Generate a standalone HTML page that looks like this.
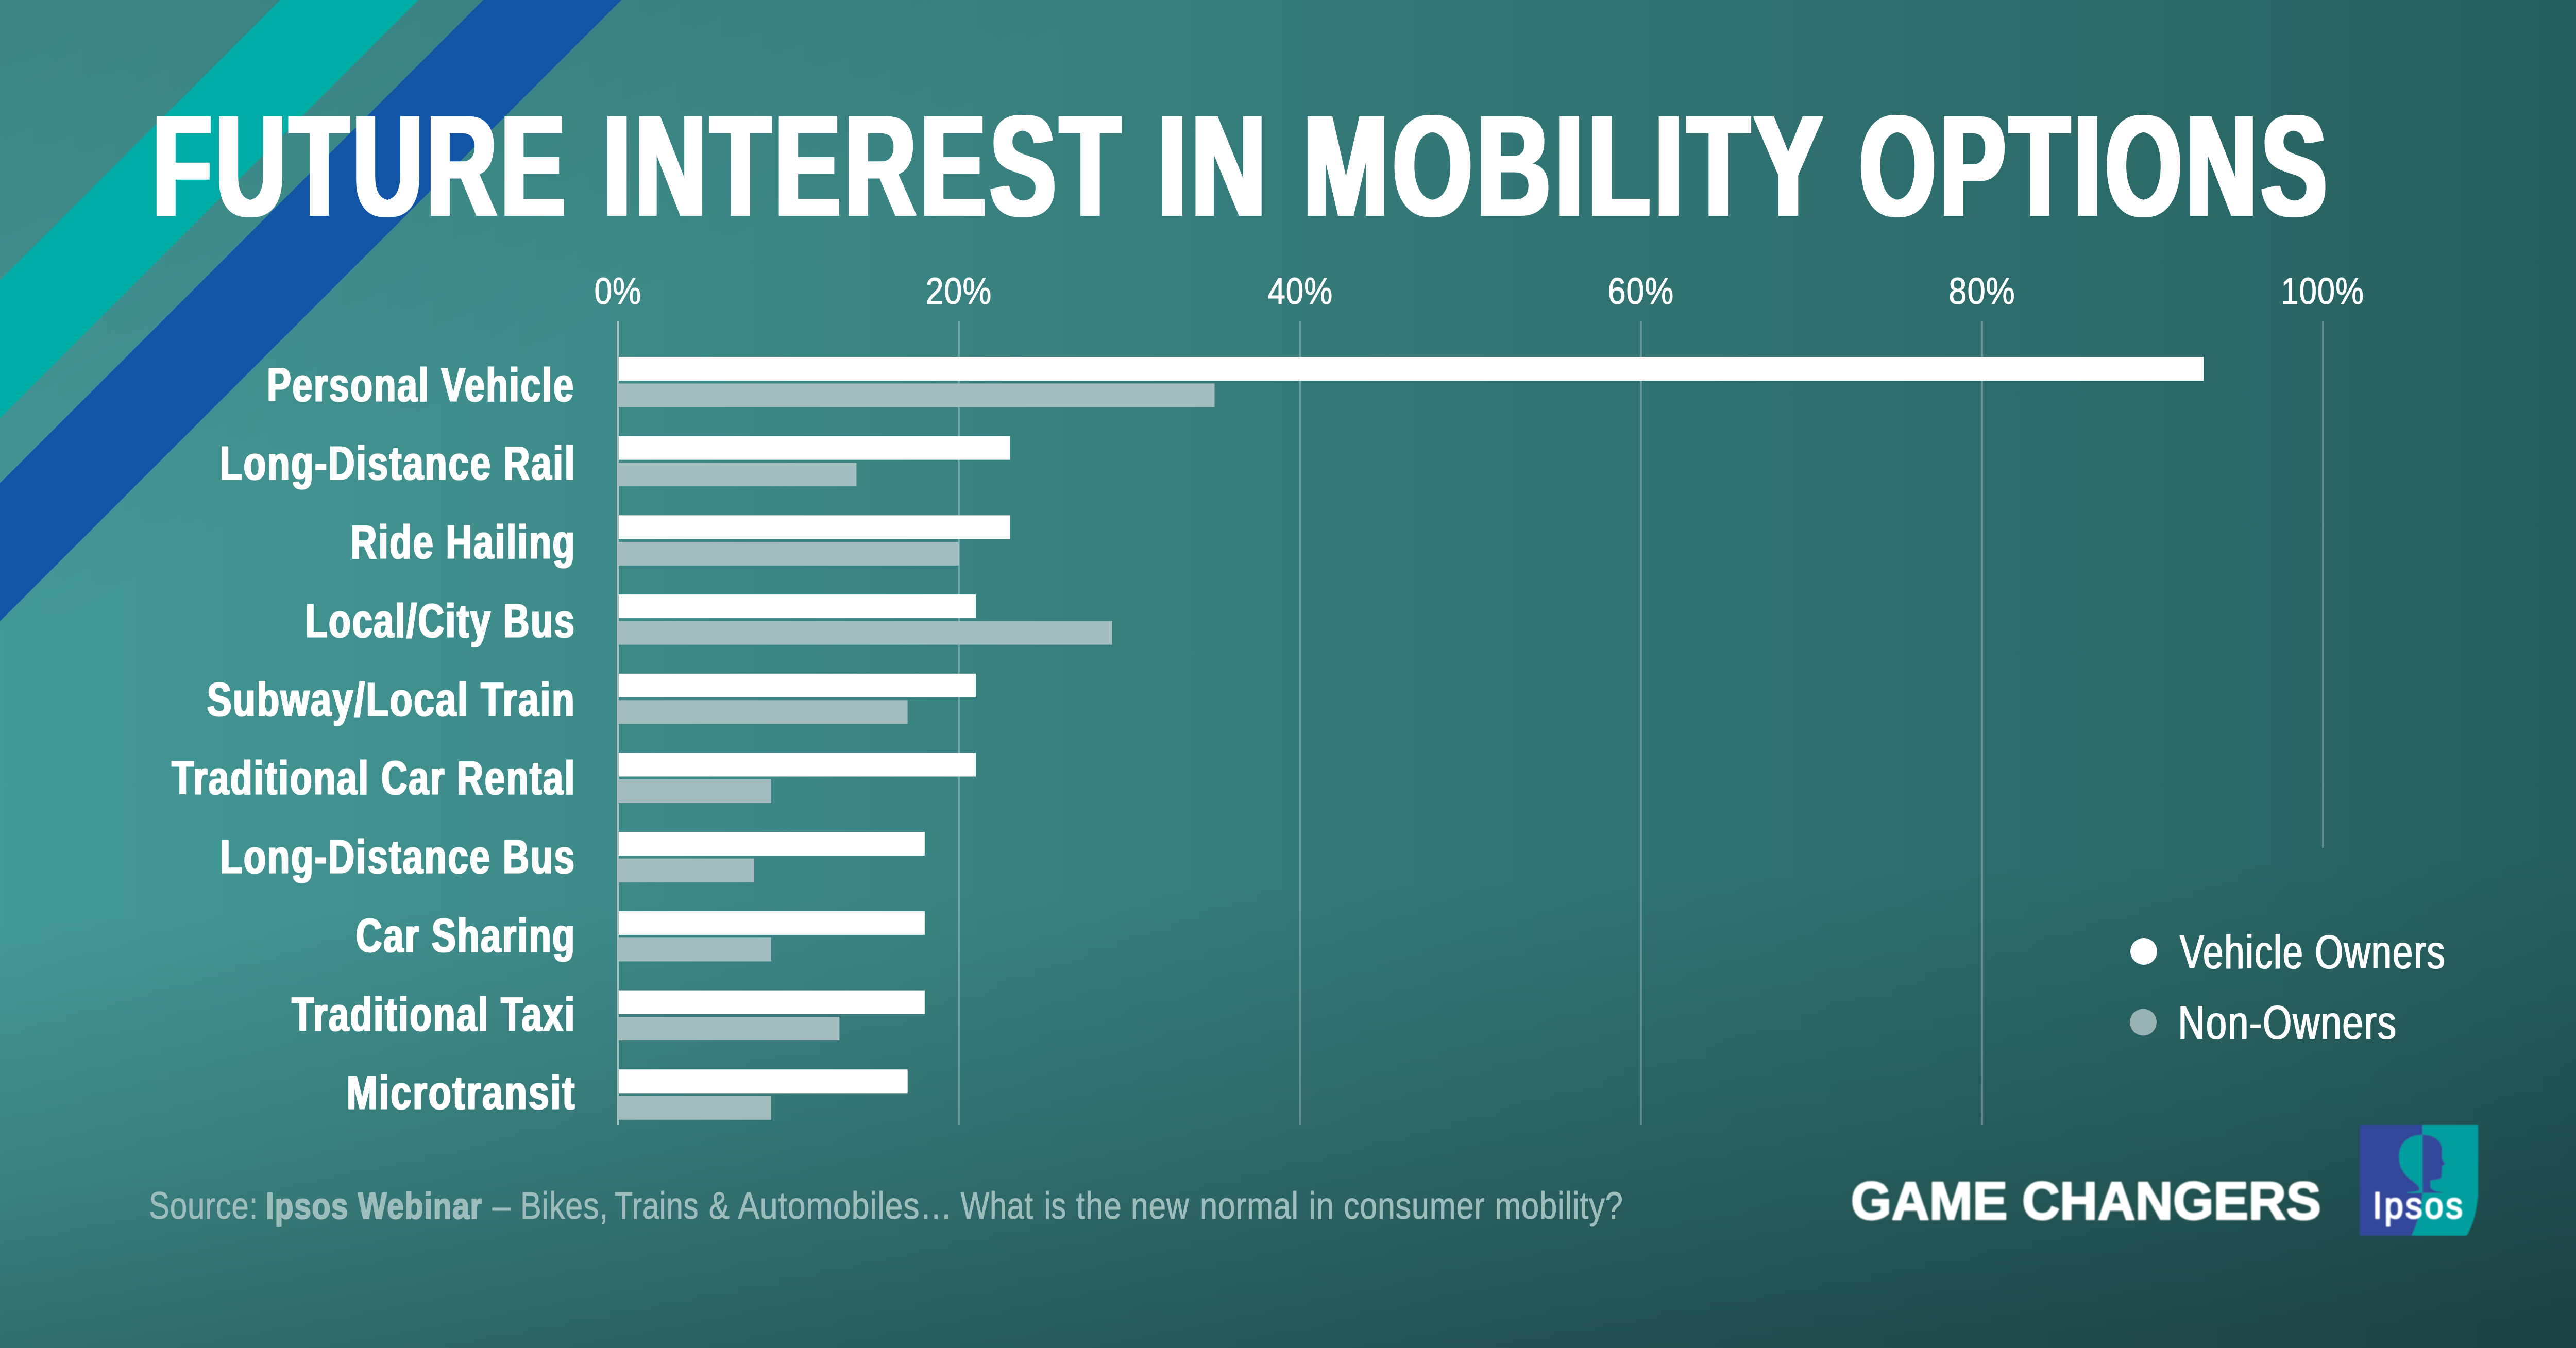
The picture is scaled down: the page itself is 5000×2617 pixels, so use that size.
<!DOCTYPE html>
<html lang="en">
<head>
<meta charset="utf-8">
<title>Future Interest in Mobility Options</title>
<style>
html,body{margin:0;padding:0;}
body{width:5000px;height:2617px;overflow:hidden;position:relative;
  font-family:"Liberation Sans",Arial,Helvetica,sans-serif;
  background:#367b7a;
}
svg{position:absolute;left:0;top:0;display:block;}
text{font-family:"Liberation Sans",Arial,Helvetica,sans-serif;white-space:pre;}
.axis{fill:#a5c0c0;}
.grid{fill:#fff;fill-opacity:.27;}
.b1{fill:#fff;}
.b2{fill:#a4bebf;}
.title{font-size:278px;font-weight:bold;fill:#fff;letter-spacing:12px;}
.tick{font-size:73px;font-weight:normal;fill:#fff;stroke:#fff;stroke-width:1.0px;stroke-linejoin:round;letter-spacing:1.0px;}
.cat{font-size:93px;font-weight:bold;fill:#fff;stroke:#fff;stroke-width:1.0px;stroke-linejoin:round;letter-spacing:3.5px;}
.legend{font-size:93px;font-weight:normal;fill:#fff;letter-spacing:2.5px;}
.src{font-size:74px;font-weight:normal;fill:#9dbdbc;stroke:#9dbdbc;stroke-width:1.0px;stroke-linejoin:round;letter-spacing:1.0px;}
.srcb{font-size:73px;font-weight:bold;fill:#9dbdbc;stroke:#9dbdbc;stroke-width:2.2px;stroke-linejoin:round;letter-spacing:1.5px;}
.gc{font-size:103px;font-weight:bold;fill:#fff;stroke:#fff;stroke-width:3.0px;stroke-linejoin:round;}
.logo{font-size:73px;font-weight:normal;fill:#fff;stroke:#fff;stroke-width:3.0px;stroke-linejoin:round;letter-spacing:5px;}
</style>
</head>
<body>
<svg width="5000" height="2617" viewBox="0 0 5000 2617" role="img" aria-label="Future interest in mobility options bar chart">
<defs>
<filter id="dil51" x="-2%" y="-15%" width="104%" height="130%"><feMorphology operator="dilate" radius="5 1"/></filter>
<filter id="soft" x="-3%" y="-30%" width="106%" height="160%"><feGaussianBlur stdDeviation="1.1"/></filter>
<filter id="dil10" x="-3%" y="-3%" width="106%" height="106%"><feMorphology operator="dilate" radius="1 0"/></filter>
<linearGradient id="bgBase" gradientUnits="userSpaceOnUse" x1="0" y1="0" x2="5000" y2="0">
<stop offset="0" stop-color="#449997"/><stop offset="0.57" stop-color="#337676"/><stop offset="0.86" stop-color="#2b6868"/><stop offset="1" stop-color="#265e5f"/>
</linearGradient>
<linearGradient id="bgTop" gradientUnits="userSpaceOnUse" x1="0" y1="0" x2="556" y2="984">
<stop offset="0" stop-color="#000" stop-opacity="0.13"/><stop offset="1" stop-color="#000" stop-opacity="0"/>
</linearGradient>
<linearGradient id="bgBot" gradientUnits="userSpaceOnUse" x1="0" y1="1780" x2="24" y2="2700">
<stop offset="0" stop-color="#000" stop-opacity="0"/><stop offset="0.141" stop-color="#000" stop-opacity="0.04"/>
<stop offset="0.522" stop-color="#000" stop-opacity="0.145"/><stop offset="0.859" stop-color="#000" stop-opacity="0.263"/>
<stop offset="1" stop-color="#000" stop-opacity="0.313"/>
</linearGradient>
</defs>
<rect width="5000" height="2617" fill="url(#bgBase)"/>
<rect width="5000" height="2617" fill="url(#bgTop)"/>
<rect width="5000" height="2617" fill="url(#bgBot)"/>
<!-- decorative stripes -->
<polygon points="544,0 812,0 0,812 0,544" fill="#00aca6"/>
<polygon points="938,0 1206,0 0,1206 0,938" fill="#1254a5"/>
<!-- Ipsos logo -->
<g id="logo" filter="url(#soft)">
<path d="M4580,2184 H4702 V2316 C4700,2350 4690,2380 4681,2399 H4580 Z" fill="#31479a"/>
<path d="M4702,2184 H4810 V2322 C4808,2350 4800,2378 4788,2399 H4681 C4690,2380 4700,2350 4702,2316 Z" fill="#009e9e"/>
<!-- head: left half teal (tree), right half blue (face) -->
<path d="M4702,2203 C4680,2203 4662,2214 4657,2236 C4654,2254 4660,2272 4672,2284 C4682,2293 4692,2298 4696,2306 C4698,2312 4692,2312 4672,2315 V2316 H4702 Z" fill="#009e9e"/>
<path d="M4702,2203 C4722,2203 4736,2212 4740,2228 L4740,2250 L4746,2260 L4740,2264 L4739,2285 C4736,2290 4726,2290 4717,2292 L4718,2306 C4722,2312 4730,2312 4740,2315 V2316 H4702 Z" fill="#31479a"/>
</g>
<rect class="axis" x="1197.0" y="624" width="4" height="1560"/>
<rect class="grid" x="1859.0" y="624" width="4" height="1560"/>
<rect class="grid" x="2521.0" y="624" width="4" height="1560"/>
<rect class="grid" x="3183.0" y="624" width="4" height="1560"/>
<rect class="grid" x="3845.0" y="624" width="4" height="1560"/>
<rect class="grid" x="4507.0" y="624" width="4" height="1022"/>
<rect class="b1" x="1201" y="693.0" width="3076.3" height="46"/>
<rect class="b2" x="1197" y="744.5" width="1160.5" height="46"/>
<rect class="b1" x="1201" y="846.7" width="759.3" height="46"/>
<rect class="b2" x="1197" y="898.2" width="465.4" height="46"/>
<rect class="b1" x="1201" y="1000.4" width="759.3" height="46"/>
<rect class="b2" x="1197" y="1051.9" width="664.0" height="46"/>
<rect class="b1" x="1201" y="1154.1" width="693.1" height="46"/>
<rect class="b2" x="1197" y="1205.6" width="961.9" height="46"/>
<rect class="b1" x="1201" y="1307.8" width="693.1" height="46"/>
<rect class="b2" x="1197" y="1359.3" width="564.7" height="46"/>
<rect class="b1" x="1201" y="1461.5" width="693.1" height="46"/>
<rect class="b2" x="1197" y="1513.0" width="299.9" height="46"/>
<rect class="b1" x="1201" y="1615.2" width="593.8" height="46"/>
<rect class="b2" x="1197" y="1666.7" width="266.8" height="46"/>
<rect class="b1" x="1201" y="1768.9" width="593.8" height="46"/>
<rect class="b2" x="1197" y="1820.4" width="299.9" height="46"/>
<rect class="b1" x="1201" y="1922.6" width="593.8" height="46"/>
<rect class="b2" x="1197" y="1974.1" width="432.3" height="46"/>
<rect class="b1" x="1201" y="2076.3" width="560.7" height="46"/>
<rect class="b2" x="1197" y="2127.8" width="299.9" height="46"/>
<circle cx="4161" cy="1847" r="26" fill="#fff"/>
<circle cx="4160" cy="1984.5" r="26" fill="#98b2b1"/>
<g class="g-title" filter="url(#dil51)">
<text class="title" transform="translate(296.28,418.0) scale(0.6743,1)">FUTURE</text>
<text class="title" transform="translate(1171.05,418.0) scale(0.6878,1)">INTEREST</text>
<text class="title" transform="translate(2247.43,418.0) scale(0.7236,1)">IN</text>
<text class="title" transform="translate(2529.60,418.0) scale(0.7135,1)">MOBILITY</text>
<text class="title" transform="translate(3609.04,418.0) scale(0.6855,1)">OPTIONS</text>
</g>
<g class="g-tick">
<text class="tick" transform="translate(1153.47,589.5) scale(0.8543,1)">0%</text>
<text class="tick" transform="translate(1796.85,589.5) scale(0.8599,1)">20%</text>
<text class="tick" transform="translate(2460.58,589.5) scale(0.8482,1)">40%</text>
<text class="tick" transform="translate(3120.85,589.5) scale(0.8599,1)">60%</text>
<text class="tick" transform="translate(3782.33,589.5) scale(0.8669,1)">80%</text>
<text class="tick" transform="translate(4427.18,589.5) scale(0.8488,1)">100%</text>
</g>
<g class="g-cat" filter="url(#dil10)">
<text class="cat" transform="translate(518.37,778.7) scale(0.7511,1)">Personal Vehicle</text>
<text class="cat" transform="translate(426.80,931.4) scale(0.7637,1)">Long-Distance Rail</text>
<text class="cat" transform="translate(680.85,1084.2) scale(0.7546,1)">Ride Hailing</text>
<text class="cat" transform="translate(592.54,1236.9) scale(0.7555,1)">Local/City Bus</text>
<text class="cat" transform="translate(401.85,1389.6) scale(0.7684,1)">Subway/Local Train</text>
<text class="cat" transform="translate(333.22,1542.3) scale(0.7560,1)">Traditional Car Rental</text>
<text class="cat" transform="translate(427.21,1695.1) scale(0.7614,1)">Long-Distance Bus</text>
<text class="cat" transform="translate(690.81,1847.8) scale(0.7552,1)">Car Sharing</text>
<text class="cat" transform="translate(566.32,2000.5) scale(0.7544,1)">Traditional Taxi</text>
<text class="cat" transform="translate(672.74,2153.3) scale(0.7753,1)">Microtransit</text>
</g>
<g class="g-legend" filter="url(#dil10)">
<text class="legend" transform="translate(4231.00,1880.0) scale(0.7587,1)">Vehicle Owners</text>
<text class="legend" transform="translate(4227.56,2017.0) scale(0.7776,1)">Non-Owners</text>
</g>
<g class="g-src">
<text class="src" transform="translate(288.97,2365.5) scale(0.8100,1)">Source:</text>
<text class="srcb" transform="translate(515.64,2365.5) scale(0.8142,1)">Ipsos Webinar</text>
<text class="src" transform="translate(955.63,2365.5) scale(0.8581,1)">–</text>
<text class="src" transform="translate(1010.07,2365.5) scale(0.8243,1)">Bikes,</text>
<text class="src" transform="translate(1192.81,2365.5) scale(0.7826,1)">Trains</text>
<text class="src" transform="translate(1375.99,2365.5) scale(0.8083,1)">&amp;</text>
<text class="src" transform="translate(1432.32,2365.5) scale(0.8445,1)">Automobiles…</text>
<text class="src" transform="translate(1864.40,2365.5) scale(0.7999,1)">What</text>
<text class="src" transform="translate(2027.10,2365.5) scale(0.7706,1)">is</text>
<text class="src" transform="translate(2088.78,2365.5) scale(0.8396,1)">the</text>
<text class="src" transform="translate(2195.04,2365.5) scale(0.8174,1)">new</text>
<text class="src" transform="translate(2328.90,2365.5) scale(0.8277,1)">normal</text>
<text class="src" transform="translate(2540.29,2365.5) scale(0.8320,1)">in</text>
<text class="src" transform="translate(2607.94,2365.5) scale(0.8243,1)">consumer</text>
<text class="src" transform="translate(2901.20,2365.5) scale(0.8289,1)">mobility?</text>
</g>
<g class="g-gc" filter="url(#soft)">
<text class="gc" transform="translate(3592.54,2367.0) scale(0.9844,1)">GAME CHANGERS</text>
</g>
<g class="g-logo" filter="url(#soft)">
<text class="logo" transform="translate(4605.57,2364.5) scale(0.8964,1)">Ipsos</text>
</g>

</svg>
</body>
</html>
